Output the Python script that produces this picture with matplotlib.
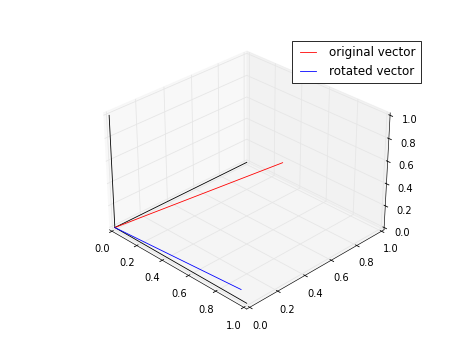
import matplotlib
matplotlib.use("Agg")
import matplotlib.pyplot as plt
from matplotlib.lines import Line2D
from mpl_toolkits.mplot3d import Axes3D
import numpy as np

plt.style.use('classic')

# unit axes and the two vectors
basis = [[1, 0, 0], [0, 1, 0], [0, 0, 1]]
original = [0.19, 1.1, 0.05]
rotated = [0.93, 0.03, 0.05]

fig = plt.figure(figsize=(8, 5.96), dpi=59.25)
ax = fig.add_subplot(111, projection='3d')
ax.set_box_aspect((1, 1, 0.68), zoom=1.07)
ax.view_init(elev=30, azim=-45)

for b in basis:
    ax.plot([0, b[0]], [0, b[1]], [0, b[2]], color='k')
ax.plot([0, original[0]], [0, original[1]], [0, original[2]], color='red')
ax.plot([0, rotated[0]], [0, rotated[1]], [0, rotated[2]], color='blue')

# panes a little wider than the unit cube, like the old mplot3d
pad = 1 / 48
ax.set_xlim(-pad, 1 + pad)
ax.set_ylim(-pad, 1 + pad)
ax.set_zlim(-pad, 1 + pad)
ax.set_xticks([0, 0.2, 0.4, 0.6, 0.8, 1.0])
ax.set_yticks([0, 0.2, 0.4, 0.6, 0.8, 1.0])
ax.set_zticks([0, 0.2, 0.4, 0.6, 0.8, 1.0])
handles = [Line2D([], [], color='red'), Line2D([], [], color='blue')]
ax.legend(handles, ['original vector', 'rotated vector'], loc='upper right',
          bbox_to_anchor=(0.9, 0.9), bbox_transform=fig.transFigure)

fig.savefig('out.png', dpi=59.25)
